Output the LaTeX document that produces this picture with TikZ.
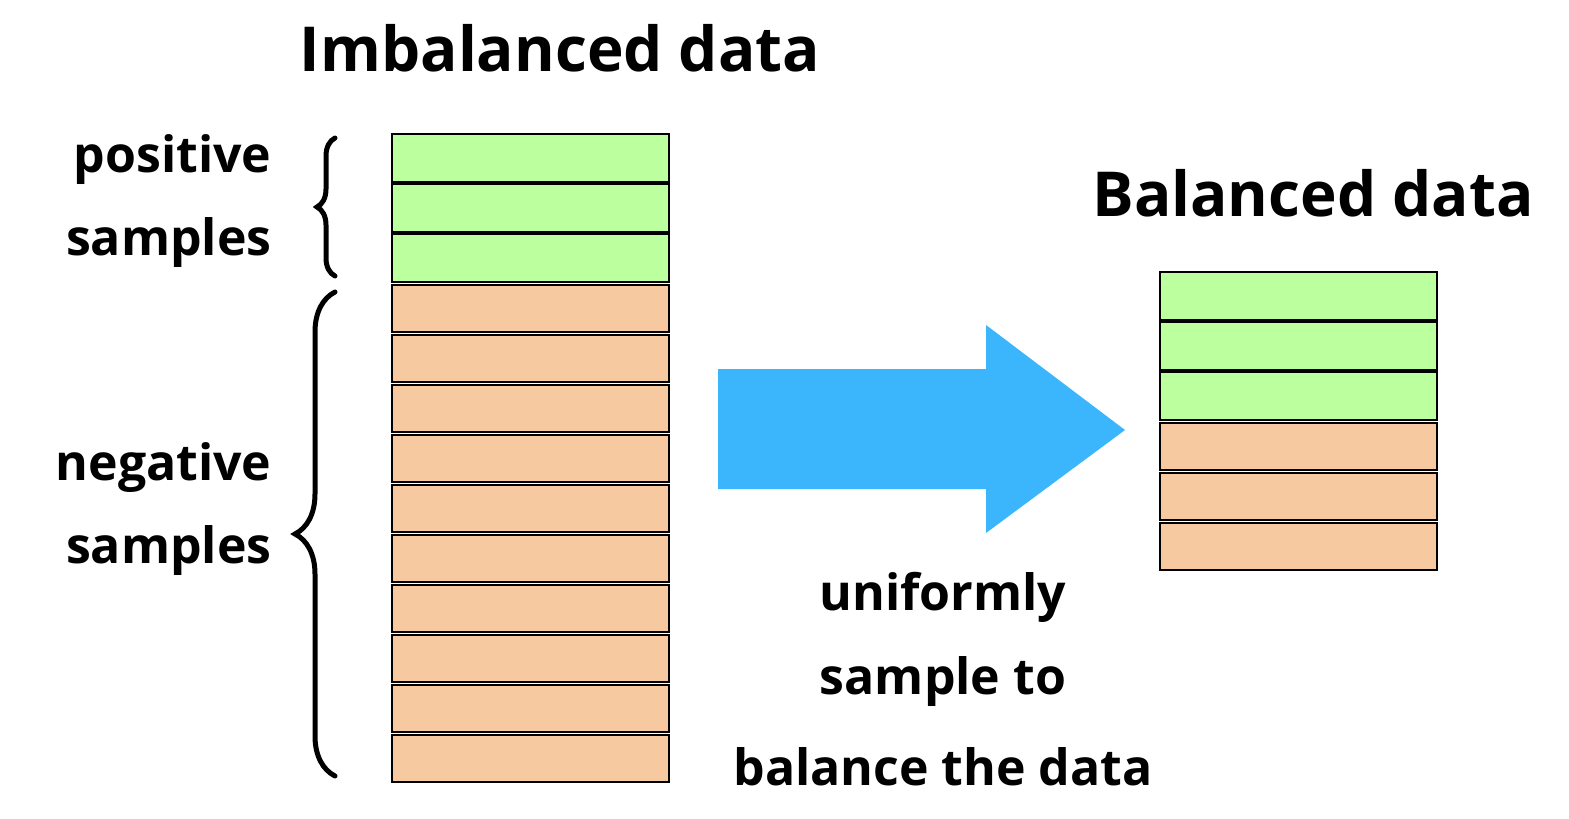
\documentclass[tikz,border=0pt]{standalone}
\usepackage{fontspec}
\setmainfont{Open Sans}
\usetikzlibrary{decorations.pathreplacing}
\definecolor{gr}{HTML}{BBFF9E}
\definecolor{orn}{HTML}{F7C9A0}
\definecolor{arr}{HTML}{3BB5FC}
\begin{document}
\begin{tikzpicture}[x=1pt,y=-1pt,
  cell/.style={draw=black,line width=1.5pt},
  lab/.style={font=\bfseries\fontsize{50}{60}\selectfont},
  ttl/.style={font=\bfseries\fontsize{62}{70}\selectfont},
  br/.style={decorate,decoration={brace,amplitude=18pt},line width=5pt,line cap=round}]
\useasboundingbox (0,0) rectangle (1569,819);
\foreach \i in {0,1,2} \draw[cell,fill=gr] (392,134+50*\i) rectangle (669,182+50*\i);
\foreach \i in {0,...,9} \draw[cell,fill=orn] (392,285+50*\i) rectangle (669,332+50*\i);
\foreach \i in {0,1,2} \draw[cell,fill=gr] (1160,272+50*\i) rectangle (1437,320+50*\i);
\foreach \i in {0,1,2} \draw[cell,fill=orn] (1160,423+50*\i) rectangle (1437,470+50*\i);
\fill[arr] (718,369) -- (986,369) -- (986,325) -- (1125,430) -- (986,533) -- (986,489) -- (718,489) -- cycle;
\node[ttl] (t1) at (560,48) {Imbalanced data};
\node[ttl] (t2) at (1313,193) {Balanced data};
\node[lab,anchor=east] (p1) at (275,160) {positive};
\node[lab,anchor=east] (p2) at (275,243) {samples};
\node[lab,anchor=east] (n1) at (275,468) {negative};
\node[lab,anchor=east] (n2) at (275,551) {samples};
\node[lab] (u1) at (943,597) {uniformly};
\node[lab] (u2) at (943,682) {sample to};
\node[lab] (u3) at (943,767) {balance the data};
\coordinate (b1) at (335,276); \coordinate (b2) at (335,138);
\coordinate (b3) at (335,776); \coordinate (b4) at (335,292);
\draw[br] (b1) -- (b2);
\draw[br,decoration={brace,amplitude=40pt}] (b3) -- (b4);
\end{tikzpicture}
\end{document}
